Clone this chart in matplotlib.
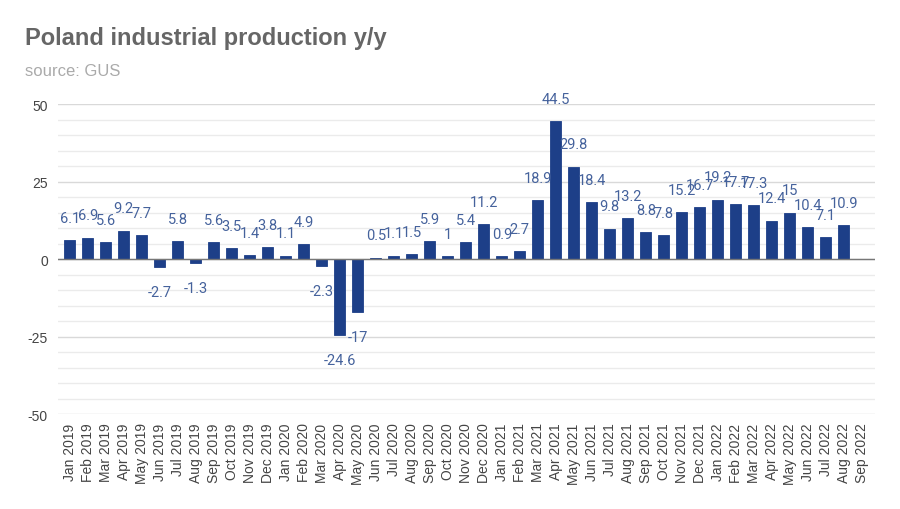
import matplotlib
matplotlib.use("Agg")
import matplotlib.pyplot as plt
from matplotlib.ticker import MultipleLocator

categories = ["Jan 2019", "Feb 2019", "Mar 2019", "Apr 2019", "May 2019", "Jun 2019",
              "Jul 2019", "Aug 2019", "Sep 2019", "Oct 2019", "Nov 2019", "Dec 2019",
              "Jan 2020", "Feb 2020", "Mar 2020", "Apr 2020", "May 2020", "Jun 2020",
              "Jul 2020", "Aug 2020", "Sep 2020", "Oct 2020", "Nov 2020", "Dec 2020",
              "Jan 2021", "Feb 2021", "Mar 2021", "Apr 2021", "May 2021", "Jun 2021",
              "Jul 2021", "Aug 2021", "Sep 2021", "Oct 2021", "Nov 2021", "Dec 2021",
              "Jan 2022", "Feb 2022", "Mar 2022", "Apr 2022", "May 2022", "Jun 2022",
              "Jul 2022", "Aug 2022", "Sep 2022"]
values = [6.1, 6.9, 5.6, 9.2, 7.7, -2.7, 5.8, -1.3, 5.6, 3.5, 1.4, 3.8,
          1.1, 4.9, -2.3, -24.6, -17, 0.5, 1.1, 1.5, 5.9, 1, 5.4, 11.2,
          0.9, 2.7, 18.9, 44.5, 29.8, 18.4, 9.8, 13.2, 8.8, 7.8, 15.2, 16.7,
          19.2, 17.7, 17.3, 12.4, 15, 10.4, 7.1, 10.9]
y_ticks = [-50, -25, 0, 25, 50]

fig = plt.figure(figsize=(9, 5.1), dpi=100)
ax = fig.add_axes([0.064, 0.186, 0.908, 0.608])

bar_color = "#1d3f88"
label_color = "#45629c"

x = list(range(len(values)))
ax.bar(x, values, width=0.62, color=bar_color, edgecolor=bar_color,
       linewidth=0.6, zorder=3)

for xi, v in zip(x, values):
    txt = f"{v:g}"
    if v >= 0:
        ax.annotate(txt, (xi, v), xytext=(0, 16), textcoords="offset points",
                    ha="center", va="center", fontsize=10.5, color=label_color,
                    family=["Roboto", "DejaVu Sans"], zorder=4)
    else:
        ax.annotate(txt, (xi, v), xytext=(0, -18), textcoords="offset points",
                    ha="center", va="center", fontsize=10.5, color=label_color,
                    family=["Roboto", "DejaVu Sans"], zorder=4)

ax.set_xlim(-0.67, len(categories) - 1 + 0.72)
ax.set_ylim(-50, 50)
ax.set_xticks(range(len(categories)))
ax.set_xticklabels(categories, rotation=90, fontsize=10,
                   family=["Liberation Sans", "DejaVu Sans"], color="#444444")
ax.set_yticks(y_ticks)
ax.set_yticklabels([str(t) for t in y_ticks], fontsize=10,
                   family=["Liberation Sans", "DejaVu Sans"], color="#444444")
ax.yaxis.set_minor_locator(MultipleLocator(5))
ax.tick_params(axis="both", which="both", length=0)
ax.tick_params(axis="x", pad=6)
ax.tick_params(axis="y", pad=7)
ax.grid(axis="y", which="major", color="#d9d9d9", linewidth=1.0, zorder=0)
ax.grid(axis="y", which="minor", color="#ebebeb", linewidth=1.0, zorder=0)
ax.axhline(0, color="#777777", linewidth=1.0, zorder=3.5)
for s in ax.spines.values():
    s.set_visible(False)

fig.text(25 / 900, 1 - 38 / 510, "Poland industrial production y/y", fontsize=17,
         fontweight="bold", color="#666666", ha="left", va="center",
         family=["Liberation Sans", "DejaVu Sans"])
fig.text(25 / 900, 1 - 72 / 510, "source: GUS", fontsize=12, color="#aaaaaa",
         ha="left", va="center", family=["Liberation Sans", "DejaVu Sans"])

fig.savefig("out.png", dpi=100, facecolor="white")
